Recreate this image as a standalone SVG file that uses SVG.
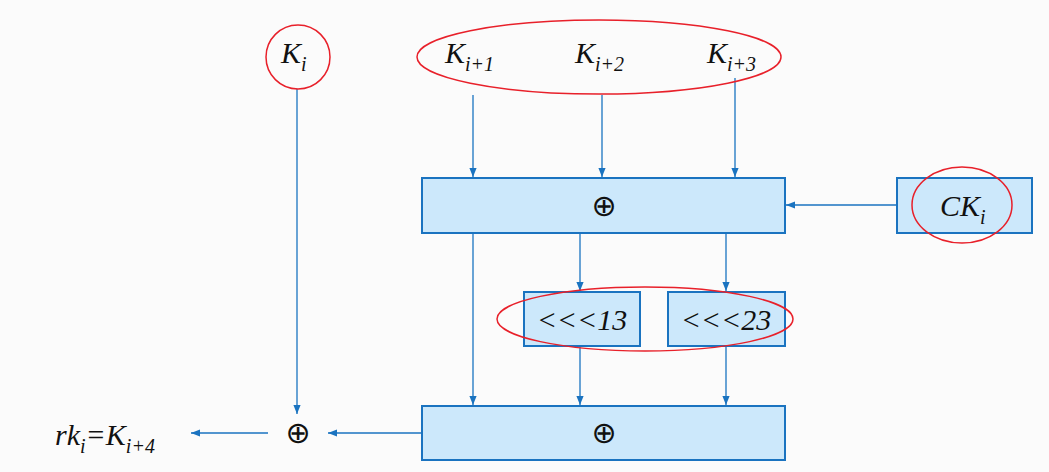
<svg xmlns="http://www.w3.org/2000/svg" width="1049" height="472" viewBox="0 0 1049 472">
<defs>
<marker id="a" viewBox="0 0 10 10" refX="10" refY="5" markerWidth="7" markerHeight="7" orient="auto"><path d="M0,1 L10,5 L0,9 z" fill="#1a73c0"/></marker>
<style>
.box{fill:#cce8fb;stroke:#1a73c0;stroke-width:2}
.ln{stroke:#1a73c0;stroke-width:1.3;fill:none;marker-end:url(#a)}
.el{fill:none;stroke:#e8202a;stroke-width:1.5}
.t{font-family:"Liberation Serif",serif;font-style:italic;font-size:30px;fill:#111}
.s{font-size:20px}
.op{font-family:"DejaVu Sans",sans-serif;font-size:30px;fill:#111;text-anchor:middle}
</style>
</defs>
<rect width="1049" height="472" fill="#fbfbfb"/>
<g id="connectors">
<line class="ln" x1="473" y1="95" x2="473" y2="177"/>
<line class="ln" x1="602" y1="95" x2="602" y2="177"/>
<line class="ln" x1="735" y1="78" x2="735" y2="177"/>
<line class="ln" x1="897" y1="205" x2="786" y2="205"/>
<line class="ln" x1="580" y1="234" x2="580" y2="291"/>
<line class="ln" x1="726" y1="234" x2="726" y2="291"/>
<line class="ln" x1="473" y1="234" x2="473" y2="405"/>
<line class="ln" x1="580" y1="347" x2="580" y2="405"/>
<line class="ln" x1="726" y1="347" x2="726" y2="405"/>
<line class="ln" x1="297" y1="89" x2="297" y2="414"/>
<line class="ln" x1="421" y1="433" x2="328" y2="433"/>
<line class="ln" x1="268" y1="433" x2="191" y2="433"/>
</g>
<g id="ki"><text class="t" x="281" y="63">K<tspan class="s" dy="8">i</tspan></text><circle class="el" cx="298" cy="57" r="32"/></g>
<g id="kin">
<text class="t" x="445" y="63">K<tspan class="s" dy="8">i+1</tspan></text>
<text class="t" x="575" y="63">K<tspan class="s" dy="8">i+2</tspan></text>
<text class="t" x="707" y="63">K<tspan class="s" dy="8">i+3</tspan></text>
<ellipse class="el" cx="599" cy="57" rx="182" ry="37"/>
</g>
<g id="xor1"><rect class="box" x="422" y="178" width="363" height="55"/><text class="op" x="604" y="216">⊕</text></g>
<g id="ck"><rect class="box" x="897" y="178" width="135" height="55"/><text class="t" x="940" y="216">CK<tspan class="s" dy="8">i</tspan></text><ellipse class="el" cx="962" cy="205" rx="50" ry="38"/></g>
<g id="rot13"><rect class="box" x="524" y="292" width="116" height="54"/><text class="t" x="582" y="330" text-anchor="middle">&lt;&lt;&lt;13</text></g>
<g id="rot23"><rect class="box" x="668" y="292" width="117" height="54"/><text class="t" x="726" y="330" text-anchor="middle">&lt;&lt;&lt;23</text></g>
<ellipse class="el" cx="645" cy="319" rx="148" ry="32"/>
<g id="xor2"><rect class="box" x="422" y="406" width="363" height="54"/><text class="op" x="604" y="443">⊕</text></g>
<g id="xor3"><text class="op" x="298" y="443">⊕</text></g>
<g id="rk"><text class="t" x="55" y="445">rk<tspan class="s" dy="8">i</tspan><tspan dy="-8">=K</tspan><tspan class="s" dy="8">i+4</tspan></text></g>
</svg>
